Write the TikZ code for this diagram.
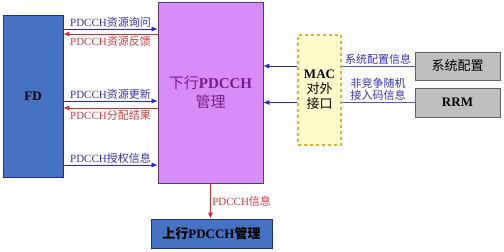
\documentclass[tikz,border=0pt]{standalone}
\usepackage{fontspec}
\setmainfont{Liberation Serif}
\newfontfamily\cjk{Noto Sans CJK SC}
\newcommand{\zh}[1]{{\cjk #1}}
\definecolor{fdBlue}{RGB}{70, 114, 196}
\definecolor{fdEdge}{RGB}{30, 50, 140}
\definecolor{dlPurple}{RGB}{215, 140, 250}
\definecolor{dlEdge}{RGB}{90, 60, 100}
\definecolor{dlText}{RGB}{120, 30, 140}
\definecolor{macFill}{RGB}{255, 253, 204}
\definecolor{macEdge}{RGB}{240, 170, 60}
\definecolor{boxGray}{RGB}{191, 191, 191}
\definecolor{grayEdge}{RGB}{100, 100, 100}
\definecolor{lnBlue}{RGB}{40, 40, 210}
\definecolor{txBlue}{RGB}{50, 50, 180}
\definecolor{lnRed}{RGB}{220, 40, 40}
\definecolor{txRed}{RGB}{210, 60, 60}
\usetikzlibrary{arrows.meta, positioning, calc}
\tikzset{
  block/.style={rectangle, draw=#1, thick, inner sep=0pt, align=center},
  bluebox/.style={block=fdEdge, fill=fdBlue, font=\fontsize{13}{15}\selectfont\bfseries},
  graybox/.style={block=grayEdge, fill=boxGray, font=\fontsize{13}{15}\selectfont},
  lbl/.style={font=\fontsize{11}{12}\selectfont, inner sep=1.5pt},
  bluearrow/.style={-{Latex[length=6pt, width=5pt]}, lnBlue, semithick},
  redarrow/.style={-{Latex[length=6pt, width=5pt]}, lnRed, semithick},
  blueline/.style={lnBlue!80, semithick},
}

\begin{document}
\begin{tikzpicture}[x=1pt, y=-1pt]
  \useasboundingbox (0,0) rectangle (504,252);

  % Main blocks
  \node[bluebox, minimum width=60pt, minimum height=162pt] (fd) at (33,96) {FD};
  \node[block=dlEdge, fill=dlPurple, text=dlText, minimum width=105pt, minimum height=181pt,
        font=\fontsize{15}{19}\selectfont] (dl) at (210.5,92.5) {\zh{下行}\textbf{PDCCH}\\\zh{管理}};
  \node[block=macEdge, fill=macFill, dashed, very thick, minimum width=43pt, minimum height=110pt,
        font=\fontsize{13}{15}\selectfont] (mac) at (319.5,90) {\textbf{MAC}\\\zh{对外}\\\zh{接口}};
  \node[graybox, minimum width=85pt, minimum height=28pt] (cfg) at (457.5,66) {\zh{系统配置}};
  \node[graybox, minimum width=85pt, minimum height=29pt, font=\fontsize{13}{15}\selectfont\bfseries] (rrm) at (457.5,102.5) {RRM};
  \node[bluebox, minimum width=121pt, minimum height=29pt] (ul) at (211.5,233.5) {\zh{上行}PDCCH\zh{管理}};

  % Rows between FD and the downlink block
  \coordinate (r1) at (0,29);
  \coordinate (r2) at (0,34);
  \coordinate (r3) at (0,101);
  \coordinate (r4) at (0,108);
  \coordinate (r5) at (0,165);

  % Arrows FD <-> downlink block
  \draw[bluearrow] (fd.east |- r1) -- node[lbl, above, text=txBlue] {PDCCH\zh{资源询问}} (dl.west |- r1);
  \draw[redarrow] (dl.west |- r2) -- node[lbl, below, text=txRed] {PDCCH\zh{资源反馈}} (fd.east |- r2);
  \draw[bluearrow] (fd.east |- r3) -- node[lbl, above, text=txBlue] {PDCCH\zh{资源更新}} (dl.west |- r3);
  \draw[redarrow] (dl.west |- r4) -- node[lbl, below, text=txRed] {PDCCH\zh{分配结果}} (fd.east |- r4);
  \draw[bluearrow] (fd.east |- r5) -- node[lbl, above, text=txBlue] {PDCCH\zh{授权信息}} (dl.west |- r5);

  % MAC interface
  \draw[bluearrow] (mac.west |- cfg.west) -- (dl.east |- cfg.west);
  \draw[bluearrow] (mac.west |- rrm.west) -- (dl.east |- rrm.west);
  \draw[blueline] (cfg.west) -- node[lbl, above, text=txBlue] {\zh{系统配置信息}} (mac.east |- cfg.west);
  \draw[blueline] (rrm.west) -- node[lbl, above, text=txBlue, align=center, font=\fontsize{11}{12}\selectfont] {\zh{非竞争随机}\\\zh{接入码信息}} (mac.east |- rrm.west);

  % Downlink to uplink
  \draw[redarrow] (dl.south) -- node[lbl, right, text=txRed] {PDCCH\zh{信息}} (dl.south |- ul.north);
\end{tikzpicture}
\end{document}
